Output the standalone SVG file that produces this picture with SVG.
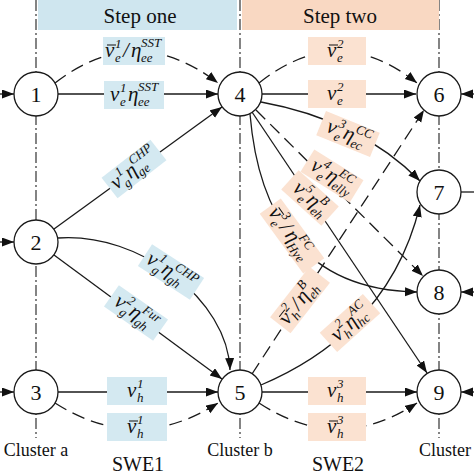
<svg xmlns="http://www.w3.org/2000/svg" width="474" height="474" viewBox="0 0 474 474">
<defs>
<marker id="ah" markerUnits="userSpaceOnUse" markerWidth="14" markerHeight="10" refX="12" refY="4.5" orient="auto"><path d="M0,0 L12,4.5 L0,9 Z" fill="#111"/></marker>
</defs>
<style>
.ax{stroke:#333;stroke-width:1.2;stroke-dasharray:11 3 2 3;fill:none}
.e{stroke:#1a1a1a;stroke-width:1.3;fill:none}
.d{stroke-dasharray:13 7}
.a{marker-end:url(#ah)}
.nd circle{fill:#fff;stroke:#1a1a1a;stroke-width:1.3}
.nd text{font-family:"Liberation Serif",serif;font-size:22px;text-anchor:middle;fill:#111}
.bl{fill:#d4e9f1}
.pc{fill:#fbe2d1}
.m{font-family:"Liberation Serif",serif;font-style:italic;font-size:21px;fill:#111}
.s{font-size:13px}
.t{font-family:"Liberation Serif",serif;fill:#111}
.ob{stroke:#111;stroke-width:1}
</style>
<rect width="474" height="474" fill="#fff"/>
<g id="axes">
<line class="ax" x1="36" y1="0" x2="36" y2="438"/>
<line class="ax" x1="240" y1="0" x2="240" y2="438"/>
<line class="ax" x1="439" y1="0" x2="439" y2="438"/>
</g>
<g id="headers">
<rect x="38" y="0" width="199" height="30" fill="#cfe6ef"/>
<rect x="242" y="0" width="197" height="30" fill="#f9d8c2"/>
<text class="t" x="140" y="23" font-size="21" text-anchor="middle">Step one</text>
<text class="t" x="340" y="23" font-size="21" text-anchor="middle">Step two</text>
</g>
<g id="connectors">
<path class="e a" d="M-5,94 L14,94"/>
<path class="e a" d="M-5,242 L14,242"/>
<path class="e a" d="M-5,392 L14,392"/>
<path class="e a" d="M480,94 L461,94"/>
<path class="e" d="M461,192 L480,192"/>
<path class="e a" d="M480,292 L461,292"/>
<path class="e a" d="M480,392 L461,392"/>
<path class="e a" d="M58,94 L218,94"/>
<path class="e d a" d="M55,83 Q136,20 218,83"/>
<path class="e a" d="M54,229 L222,107"/>
<path class="e a" d="M58,238 C140,232 228,300 230,370"/>
<path class="e a" d="M54,255 L222,379"/>
<path class="e a" d="M58,392 L218,392"/>
<path class="e d a" d="M55,403 Q137,455 218,403"/>
<path class="e a" d="M262,94 L416,94"/>
<path class="e d a" d="M259,83 Q338,20 417,83"/>
<path class="e a" d="M261,102 Q360,120 420,181"/>
<path class="e d a" d="M256,110 L423,276"/>
<path class="e a" d="M252,112 L427,373"/>
<path class="e a" d="M250,114 C258,210 300,290 417,292"/>
<path class="e d a" d="M252,374 L424,110"/>
<path class="e a" d="M261,385 C320,360 395,310 420,205"/>
<path class="e a" d="M262,392 L417,392"/>
<path class="e d a" d="M259,403 Q338,455 417,403"/>
</g>
<g id="labels">
<g id="l14d" transform="translate(134,51)"><rect class="bl" x="-31" y="-14" width="62" height="28"/><line class="ob" x1="-27" y1="-6" x2="-18" y2="-6"/><text class="m"><tspan x="-29" y="6">ν</tspan><tspan class="s" x="-19" y="-3">1</tspan><tspan class="s" x="-19" y="11">e</tspan><tspan x="-11" y="6">/</tspan><tspan x="-3" y="6">η</tspan><tspan class="s" x="7" y="-4">SST</tspan><tspan class="s" x="7" y="11">ee</tspan></text></g>
<g id="l14" transform="translate(134,95)"><rect class="bl" x="-30" y="-14" width="60" height="28"/><text class="m"><tspan x="-24" y="6">ν</tspan><tspan class="s" x="-14" y="-3">1</tspan><tspan class="s" x="-14" y="11">e</tspan><tspan x="-6" y="6">η</tspan><tspan class="s" x="4" y="-4">SST</tspan><tspan class="s" x="4" y="11">ee</tspan></text></g>
<g id="l24" transform="translate(134,169) rotate(-38)"><rect class="bl" x="-31" y="-13" width="62" height="26"/><text class="m"><tspan x="-27" y="6">ν</tspan><tspan class="s" x="-17" y="-3">1</tspan><tspan class="s" x="-17" y="11">g</tspan><tspan x="-9" y="6">η</tspan><tspan class="s" x="1" y="-4">CHP</tspan><tspan class="s" x="1" y="11">ge</tspan></text></g>
<g id="l25a" transform="translate(171,272) rotate(33)"><rect class="bl" x="-31" y="-13" width="62" height="26"/><text class="m"><tspan x="-27" y="6">ν</tspan><tspan class="s" x="-17" y="-3">1</tspan><tspan class="s" x="-17" y="11">g</tspan><tspan x="-9" y="6">η</tspan><tspan class="s" x="1" y="-4">CHP</tspan><tspan class="s" x="1" y="11">gh</tspan></text></g>
<g id="l25b" transform="translate(136,313) rotate(35)"><rect class="bl" x="-30" y="-13" width="60" height="26"/><text class="m"><tspan x="-24" y="6">ν</tspan><tspan class="s" x="-14" y="-3">2</tspan><tspan class="s" x="-14" y="11">g</tspan><tspan x="-6" y="6">η</tspan><tspan class="s" x="4" y="-4">Fur</tspan><tspan class="s" x="4" y="11">gh</tspan></text></g>
<g id="l35" transform="translate(137,391)"><rect class="bl" x="-30" y="-14" width="60" height="28"/><text class="m"><tspan x="-10" y="6">ν</tspan><tspan class="s" x="0" y="-3">1</tspan><tspan class="s" x="0" y="11">h</tspan></text></g>
<g id="l35d" transform="translate(137,427)"><rect class="bl" x="-30" y="-14" width="60" height="28"/><line class="ob" x1="-8" y1="-6" x2="1" y2="-6"/><text class="m"><tspan x="-10" y="6">ν</tspan><tspan class="s" x="0" y="-3">1</tspan><tspan class="s" x="0" y="11">h</tspan></text></g>
<g id="l46d" transform="translate(337,51)"><rect class="pc" x="-29" y="-14" width="58" height="28"/><line class="ob" x1="-8" y1="-6" x2="1" y2="-6"/><text class="m"><tspan x="-10" y="6">ν</tspan><tspan class="s" x="0" y="-3">2</tspan><tspan class="s" x="0" y="11">e</tspan></text></g>
<g id="l46" transform="translate(337,94)"><rect class="pc" x="-29" y="-14" width="58" height="28"/><text class="m"><tspan x="-10" y="6">ν</tspan><tspan class="s" x="0" y="-3">2</tspan><tspan class="s" x="0" y="11">e</tspan></text></g>
<g id="l47" transform="translate(348,134) rotate(22)"><rect class="pc" x="-29" y="-13" width="58" height="26"/><text class="m"><tspan x="-22" y="6">ν</tspan><tspan class="s" x="-12" y="-3">3</tspan><tspan class="s" x="-12" y="11">e</tspan><tspan x="-4" y="6">η</tspan><tspan class="s" x="6" y="-4">CC</tspan><tspan class="s" x="6" y="11">ec</tspan></text></g>
<g id="l48d" transform="translate(332,176) rotate(32)"><rect class="pc" x="-29" y="-13" width="58" height="26"/><text class="m"><tspan x="-23" y="6">ν</tspan><tspan class="s" x="-13" y="-3">4</tspan><tspan class="s" x="-13" y="11">e</tspan><tspan x="-5" y="6">η</tspan><tspan class="s" x="5" y="-4">EC</tspan><tspan class="s" x="5" y="11">elly</tspan></text></g>
<g id="l49" transform="translate(310,198) rotate(42)"><rect class="pc" x="-27" y="-13" width="54" height="26"/><text class="m"><tspan x="-19" y="6">ν</tspan><tspan class="s" x="-9" y="-3">5</tspan><tspan class="s" x="-9" y="11">e</tspan><tspan x="-1" y="6">η</tspan><tspan class="s" x="9" y="-4">B</tspan><tspan class="s" x="9" y="11">eh</tspan></text></g>
<g id="l48c" transform="translate(292,236) rotate(54)"><rect class="pc" x="-37" y="-13" width="74" height="26"/><line class="ob" x1="-31" y1="-6" x2="-22" y2="-6"/><text class="m"><tspan x="-33" y="6">ν</tspan><tspan class="s" x="-23" y="-3">3</tspan><tspan class="s" x="-23" y="11">e</tspan><tspan x="-14" y="6">/</tspan><tspan x="-5" y="6">η</tspan><tspan class="s" x="5" y="-4">FC</tspan><tspan class="s" x="5" y="11">Hye</tspan></text></g>
<g id="l56d" transform="translate(300,300) rotate(-52)"><rect class="pc" x="-32" y="-13" width="64" height="26"/><line class="ob" x1="-26" y1="-6" x2="-17" y2="-6"/><text class="m"><tspan x="-28" y="6">ν</tspan><tspan class="s" x="-18" y="-3">2</tspan><tspan class="s" x="-18" y="11">h</tspan><tspan x="-9" y="6">/</tspan><tspan x="-1" y="6">η</tspan><tspan class="s" x="9" y="-4">B</tspan><tspan class="s" x="9" y="11">eh</tspan></text></g>
<g id="l57" transform="translate(350,323) rotate(-42)"><rect class="pc" x="-29" y="-13" width="58" height="26"/><text class="m"><tspan x="-22" y="6">ν</tspan><tspan class="s" x="-12" y="-3">2</tspan><tspan class="s" x="-12" y="11">h</tspan><tspan x="-4" y="6">η</tspan><tspan class="s" x="6" y="-4">AC</tspan><tspan class="s" x="6" y="11">hc</tspan></text></g>
<g id="l59" transform="translate(337,391)"><rect class="pc" x="-29" y="-14" width="58" height="28"/><text class="m"><tspan x="-10" y="6">ν</tspan><tspan class="s" x="0" y="-3">3</tspan><tspan class="s" x="0" y="11">h</tspan></text></g>
<g id="l59d" transform="translate(337,427)"><rect class="pc" x="-29" y="-14" width="58" height="28"/><line class="ob" x1="-8" y1="-6" x2="1" y2="-6"/><text class="m"><tspan x="-10" y="6">ν</tspan><tspan class="s" x="0" y="-3">3</tspan><tspan class="s" x="0" y="11">h</tspan></text></g>
</g>
<g id="n1" class="nd"><circle cx="36" cy="94" r="22"/><text x="36" y="102">1</text></g>
<g id="n2" class="nd"><circle cx="36" cy="242" r="22"/><text x="36" y="250">2</text></g>
<g id="n3" class="nd"><circle cx="36" cy="392" r="22"/><text x="36" y="400">3</text></g>
<g id="n4" class="nd"><circle cx="240" cy="94" r="22"/><text x="240" y="102">4</text></g>
<g id="n5" class="nd"><circle cx="240" cy="392" r="22"/><text x="240" y="400">5</text></g>
<g id="n6" class="nd"><circle cx="439" cy="94" r="22"/><text x="439" y="102">6</text></g>
<g id="n7" class="nd"><circle cx="439" cy="192" r="22"/><text x="439" y="200">7</text></g>
<g id="n8" class="nd"><circle cx="439" cy="292" r="22"/><text x="439" y="300">8</text></g>
<g id="n9" class="nd"><circle cx="439" cy="392" r="22"/><text x="439" y="400">9</text></g>
<g id="footer">
<text class="t" x="36" y="456" font-size="18" text-anchor="middle">Cluster a</text>
<text class="t" x="240" y="456" font-size="18" text-anchor="middle">Cluster b</text>
<text class="t" x="419" y="456" font-size="18">Cluster</text>
<text class="t" x="138" y="471" font-size="20" text-anchor="middle">SWE1</text>
<text class="t" x="338" y="471" font-size="20" text-anchor="middle">SWE2</text>
</g>
</svg>
